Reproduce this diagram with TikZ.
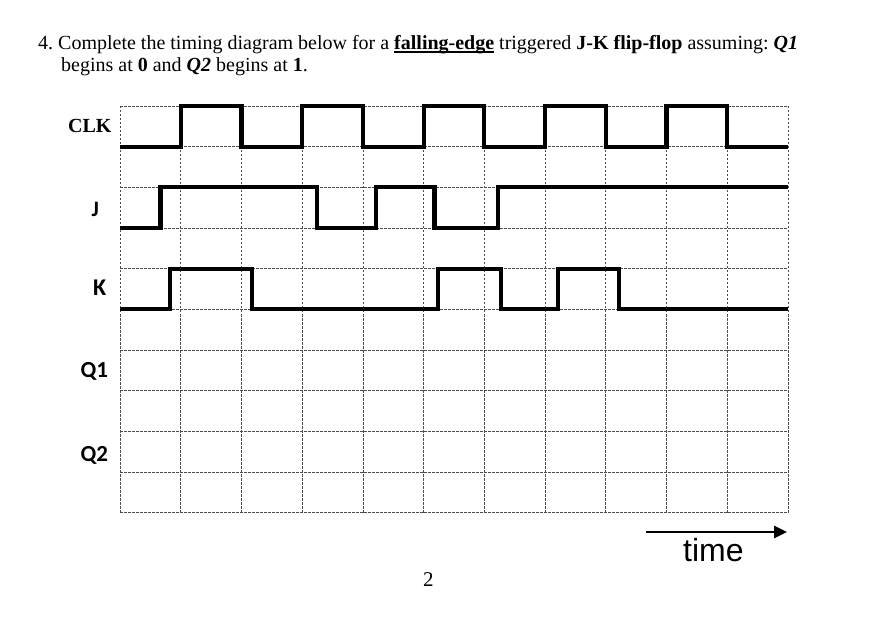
\documentclass[tikz,border=0pt]{standalone}
\usepackage{fontspec}
\setmainfont{Liberation Serif}
\newfontfamily\carl{Carlito}
\newfontfamily\arialf{Liberation Sans}
\usetikzlibrary{arrows.meta}
\newcommand\myul[1]{\setbox0\hbox{#1}\rlap{\rule[-3pt]{\wd0}{1.6pt}}\box0\relax}
\begin{document}
\frenchspacing
\begin{tikzpicture}[x=1pt,y=-1pt,
  gridline/.style={draw=black!70,line width=0.8pt,dash pattern=on 2.5pt off 1.5pt},
  wave/.style={draw=black,line width=4.2pt,line join=miter},
  lbl/.style={inner sep=0pt,anchor=base west},
  title/.style={inner sep=0pt,anchor=base west,font=\fontsize{20}{24}\selectfont}]
\useasboundingbox (0,0) rectangle (880,617);
% grid
\foreach \k in {0,...,11} \draw[gridline] ({120+\k*60.7273},106) -- ({120+\k*60.7273},512.7);
\foreach \j in {0,...,10} \draw[gridline] (120,{106+\j*40.67}) -- (788,{106+\j*40.67});
% title
\node[title] (t1) at (38,50) {4. Complete the timing diagram below for a \myul{\textbf{falling-edge}} triggered \textbf{J-K flip-flop} assuming: \textbf{\textit{Q1}}};
\node[title] (t2) at (61,71.7) {begins at \textbf{0} and \textbf{\textit{Q2}} begins at \textbf{1}.};
% labels
\node[lbl,font=\fontsize{20}{24}\selectfont\bfseries] (clk) at (68,133) {CLK};
\node[lbl,font=\carl\fontsize{22}{26}\selectfont\bfseries] (j) at (91.5,216.7) {J};
\node[lbl,font=\carl\fontsize{24}{28}\selectfont\bfseries] (k) at (93,295.7) {K};
\node[lbl,font=\carl\fontsize{23}{27}\selectfont\bfseries] (q1) at (80.5,377.7) {Q1};
\node[lbl,font=\carl\fontsize{23}{27}\selectfont\bfseries] (q2) at (80.5,461.7) {Q2};
% CLK
\draw[wave] (120,146.67) -- (180.73,146.67) -- (180.73,106) -- (241.45,106) -- (241.45,146.67)
  -- (302.18,146.67) -- (302.18,106) -- (362.91,106) -- (362.91,146.67)
  -- (423.64,146.67) -- (423.64,106) -- (484.36,106) -- (484.36,146.67)
  -- (545.09,146.67) -- (545.09,106) -- (605.82,106) -- (605.82,146.67)
  -- (666.55,146.67) -- (666.55,106) -- (727.27,106) -- (727.27,146.67) -- (788,146.67);
% J
\draw[wave] (120,228.01) -- (160.5,228.01) -- (160.5,187.34) -- (317,187.34) -- (317,228.01)
  -- (376,228.01) -- (376,187.34) -- (434.5,187.34) -- (434.5,228.01)
  -- (498.3,228.01) -- (498.3,187.34) -- (788,187.34);
% K
\draw[wave] (120,309.35) -- (170,309.35) -- (170,268.68) -- (251.7,268.68) -- (251.7,309.35)
  -- (437.7,309.35) -- (437.7,268.68) -- (500.7,268.68) -- (500.7,309.35)
  -- (558.3,309.35) -- (558.3,268.68) -- (619.3,268.68) -- (619.3,309.35) -- (788,309.35);
% time arrow
\coordinate (ta) at (646,532);
\coordinate (tb) at (787,532);
\draw[line width=2.7pt,-{Triangle[length=13pt,width=12pt]}] (ta) -- (tb);
\node[lbl,font=\arialf\fontsize{32}{36}\selectfont] (time) at (683,561.7) {time};
\node[lbl,font=\fontsize{21}{25}\selectfont] (pg) at (423,586) {2};
\end{tikzpicture}
\end{document}
